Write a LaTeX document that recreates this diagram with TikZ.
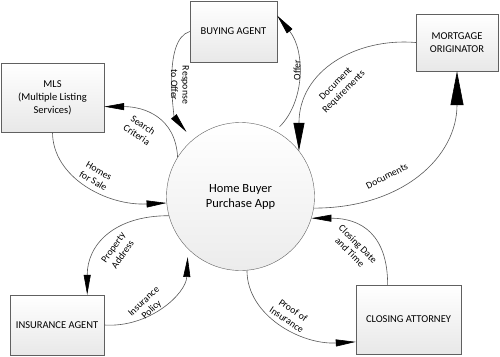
\documentclass[tikz,border=0pt]{standalone}
\usepackage{fontspec}
\setmainfont{Carlito}
\usetikzlibrary{arrows.meta,shapes.geometric}
\tikzset{
  agent/.style={draw=gray!75!black,rectangle,top color=white,bottom color=gray!18,align=center,font=\fontsize{10.5}{13}\selectfont,inner sep=0pt},
  proc/.style={draw=gray!75!black,circle,minimum size=148pt,inner sep=0pt,top color=white,bottom color=gray!15,align=center,font=\fontsize{12.5}{15}\selectfont},
  flow/.style={draw=gray!70!black,line width=0.6pt,-{Triangle[length=20pt,width=7pt,color=black]}},
  midflow/.style={flow,-{Triangle[length=28pt,width=11pt,color=black]}},
  bigflow/.style={flow,-{Triangle[length=34pt,width=13pt,color=black]}},
  lbl/.style={align=center,font=\fontsize{9.8}{11.5}\selectfont,inner sep=0pt}
}

\begin{document}
\begin{tikzpicture}[x=1pt,y=-1pt]
  \useasboundingbox[fill=white] (0,0) rectangle (500,356);

  % external agents and the process
  \node[proc] (app) at (240.5,196.5) {Home Buyer\\Purchase App};
  \node[agent,minimum width=87pt,minimum height=61pt] (buy) at (233.5,31.5) {BUYING AGENT};
  \node[agent,minimum width=103pt,minimum height=69pt] (mls) at (52.5,97.5) {MLS\\(Multiple Listing\\Services)};
  \node[agent,minimum width=82pt,minimum height=57pt] (mort) at (457,42.5) {MORTGAGE\\ORIGINATOR};
  \node[agent,minimum width=94pt,minimum height=60pt] (ins) at (57,325) {INSURANCE AGENT};
  \node[agent,minimum width=105pt,minimum height=69pt] (close) at (408.5,319.5) {CLOSING ATTORNEY};

  % data flows
  \draw[flow,shorten >=10pt] (buy.west) .. controls +(-28,8) and +(-18,-22) .. (app.130);
  \draw[flow,shorten <=6pt] (app.62) .. controls +(30,-30) and +(28,35) .. (buy.20);
  \draw[midflow] (mort.west) .. controls +(-60,-5) and +(0,-80) .. (app.38);
  \draw[bigflow] (app.-9) .. controls +(90,0) and +(0,85) .. (mort.south);
  \draw[flow] (app.148) .. controls +(-2,-40) and +(40,0) .. (mls.-10);
  \draw[flow] (mls.south) .. controls +(0,45) and +(-60,3) .. (app.185);
  \draw[flow] (app.195) .. controls +(-55,0) and +(0,-50) .. (ins.45);
  \draw[flow,shorten >=8pt] (ins.east) .. controls +(45,3) and +(-2,45) .. (app.225);
  \draw[flow] (app.275) .. controls +(0,45) and +(-55,3) .. (close.203);
  \draw[flow] (close.121) .. controls +(0,-50) and +(50,0) .. (app.343);

  % flow labels
  \node[lbl,rotate=-90] (lresp) at (180,85) {Response\\to Offer};
  \node[lbl,rotate=90] (loffer) at (297,70) {Offer};
  \node[lbl,rotate=45] (ldocreq) at (340,88) {Document\\Requirements};
  \node[lbl,rotate=27] (ldocs) at (387,176) {Documents};
  \node[lbl,rotate=-33] (lsearch) at (140,130) {Search\\Criteria};
  \node[lbl,rotate=-30] (lhomes) at (96,176) {Homes\\for Sale};
  \node[lbl,rotate=55] (laddr) at (118,251) {Property\\Address};
  \node[lbl,rotate=43] (lpolicy) at (148,306) {Insurance\\Policy};
  \node[lbl,rotate=-34] (lproof) at (290,315) {Proof of\\Insurance};
  \node[lbl,rotate=-45] (lclose) at (354,248) {Closing Date\\and Time};
\end{tikzpicture}
\end{document}
